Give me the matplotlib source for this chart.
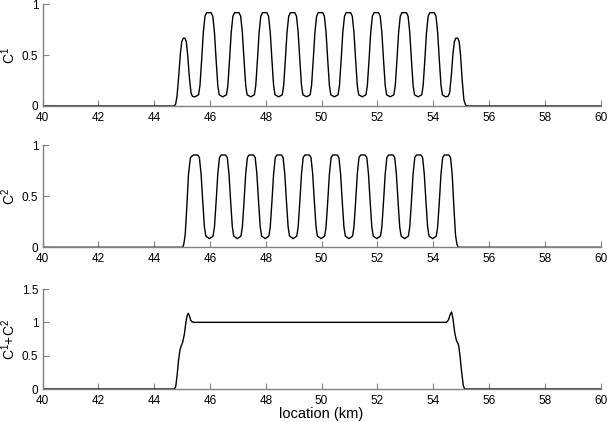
import numpy as np
import matplotlib
matplotlib.use("Agg")
import matplotlib.pyplot as plt

plt.rcParams['font.family'] = ['Liberation Sans', 'DejaVu Sans']
plt.rcParams['mathtext.default'] = 'regular'

# --- valores (km, concentración) ---
c1_x = [
    40.00, 44.72, 44.77, 44.82, 44.88, 44.94, 44.99, 45.04, 45.10, 45.15, 45.20, 45.26, 45.32, 45.37, 45.46,
    45.59, 45.64, 45.70, 45.76, 45.82, 45.88, 46.04, 46.10, 46.16, 46.22, 46.28, 46.33, 46.46,
    46.59, 46.64, 46.70, 46.76, 46.82, 46.88, 47.04, 47.10, 47.16, 47.22, 47.28, 47.33, 47.46,
    47.59, 47.64, 47.70, 47.76, 47.82, 47.88, 48.04, 48.10, 48.16, 48.22, 48.28, 48.33, 48.46,
    48.59, 48.64, 48.70, 48.76, 48.82, 48.88, 49.04, 49.10, 49.16, 49.22, 49.28, 49.33, 49.46,
    49.59, 49.64, 49.70, 49.76, 49.82, 49.88, 50.04, 50.10, 50.16, 50.22, 50.28, 50.33, 50.46,
    50.59, 50.64, 50.70, 50.76, 50.82, 50.88, 51.04, 51.10, 51.16, 51.22, 51.28, 51.33, 51.46,
    51.59, 51.64, 51.70, 51.76, 51.82, 51.88, 52.04, 52.10, 52.16, 52.22, 52.28, 52.33, 52.46,
    52.59, 52.64, 52.70, 52.76, 52.82, 52.88, 53.04, 53.10, 53.16, 53.22, 53.28, 53.33, 53.46,
    53.59, 53.64, 53.70, 53.76, 53.82, 53.88, 54.04, 54.10, 54.16, 54.22, 54.28, 54.33, 54.44,
    54.53, 54.59, 54.65, 54.71, 54.76, 54.81, 54.88, 54.93, 54.98, 55.04, 55.10, 55.16, 55.22, 60.00,
]
c1_y = [
    0.00, 0.00, 0.02, 0.10, 0.30, 0.52, 0.63, 0.665, 0.665, 0.63, 0.50, 0.28, 0.13, 0.095, 0.09,
    0.11, 0.20, 0.45, 0.72, 0.88, 0.915, 0.915, 0.88, 0.72, 0.45, 0.20, 0.11, 0.09,
    0.11, 0.20, 0.45, 0.72, 0.88, 0.915, 0.915, 0.88, 0.72, 0.45, 0.20, 0.11, 0.09,
    0.11, 0.20, 0.45, 0.72, 0.88, 0.915, 0.915, 0.88, 0.72, 0.45, 0.20, 0.11, 0.09,
    0.11, 0.20, 0.45, 0.72, 0.88, 0.915, 0.915, 0.88, 0.72, 0.45, 0.20, 0.11, 0.09,
    0.11, 0.20, 0.45, 0.72, 0.88, 0.915, 0.915, 0.88, 0.72, 0.45, 0.20, 0.11, 0.09,
    0.11, 0.20, 0.45, 0.72, 0.88, 0.915, 0.915, 0.88, 0.72, 0.45, 0.20, 0.11, 0.09,
    0.11, 0.20, 0.45, 0.72, 0.88, 0.915, 0.915, 0.88, 0.72, 0.45, 0.20, 0.11, 0.09,
    0.11, 0.20, 0.45, 0.72, 0.88, 0.915, 0.915, 0.88, 0.72, 0.45, 0.20, 0.11, 0.09,
    0.11, 0.20, 0.45, 0.72, 0.88, 0.915, 0.915, 0.88, 0.72, 0.45, 0.20, 0.11, 0.09,
    0.095, 0.13, 0.30, 0.52, 0.63, 0.665, 0.665, 0.63, 0.50, 0.25, 0.06, 0.01, 0.00, 0.00,
]

c2_x = [
    40.00, 45.02, 45.06, 45.11, 45.17, 45.23, 45.30, 45.40,
    45.56, 45.62, 45.68, 45.74, 45.80, 45.85, 45.98,
    46.11, 46.16, 46.22, 46.28, 46.34, 46.40, 46.56, 46.62, 46.68, 46.74, 46.80, 46.85, 46.98,
    47.11, 47.16, 47.22, 47.28, 47.34, 47.40, 47.56, 47.62, 47.68, 47.74, 47.80, 47.85, 47.98,
    48.11, 48.16, 48.22, 48.28, 48.34, 48.40, 48.56, 48.62, 48.68, 48.74, 48.80, 48.85, 48.98,
    49.11, 49.16, 49.22, 49.28, 49.34, 49.40, 49.56, 49.62, 49.68, 49.74, 49.80, 49.85, 49.98,
    50.11, 50.16, 50.22, 50.28, 50.34, 50.40, 50.56, 50.62, 50.68, 50.74, 50.80, 50.85, 50.98,
    51.11, 51.16, 51.22, 51.28, 51.34, 51.40, 51.56, 51.62, 51.68, 51.74, 51.80, 51.85, 51.98,
    52.11, 52.16, 52.22, 52.28, 52.34, 52.40, 52.56, 52.62, 52.68, 52.74, 52.80, 52.85, 52.98,
    53.11, 53.16, 53.22, 53.28, 53.34, 53.40, 53.56, 53.62, 53.68, 53.74, 53.80, 53.85, 53.98,
    54.11, 54.16, 54.22, 54.28, 54.34, 54.40, 54.56, 54.62, 54.68, 54.74, 54.80, 54.85, 54.90, 60.00,
]
c2_y = [
    0.00, 0.00, 0.03, 0.12, 0.40, 0.72, 0.88, 0.905,
    0.905, 0.88, 0.72, 0.45, 0.20, 0.11, 0.085,
    0.11, 0.20, 0.45, 0.72, 0.88, 0.905, 0.905, 0.88, 0.72, 0.45, 0.20, 0.11, 0.085,
    0.11, 0.20, 0.45, 0.72, 0.88, 0.905, 0.905, 0.88, 0.72, 0.45, 0.20, 0.11, 0.085,
    0.11, 0.20, 0.45, 0.72, 0.88, 0.905, 0.905, 0.88, 0.72, 0.45, 0.20, 0.11, 0.085,
    0.11, 0.20, 0.45, 0.72, 0.88, 0.905, 0.905, 0.88, 0.72, 0.45, 0.20, 0.11, 0.085,
    0.11, 0.20, 0.45, 0.72, 0.88, 0.905, 0.905, 0.88, 0.72, 0.45, 0.20, 0.11, 0.085,
    0.11, 0.20, 0.45, 0.72, 0.88, 0.905, 0.905, 0.88, 0.72, 0.45, 0.20, 0.11, 0.085,
    0.11, 0.20, 0.45, 0.72, 0.88, 0.905, 0.905, 0.88, 0.72, 0.45, 0.20, 0.11, 0.085,
    0.11, 0.20, 0.45, 0.72, 0.88, 0.905, 0.905, 0.88, 0.72, 0.45, 0.20, 0.11, 0.085,
    0.11, 0.20, 0.45, 0.72, 0.88, 0.905, 0.905, 0.88, 0.72, 0.40, 0.12, 0.03, 0.00, 0.00,
]

sum_x = [
    40.00, 44.72, 44.77, 44.82, 44.87, 44.92, 44.97, 45.02, 45.08, 45.13, 45.18, 45.22, 45.26, 45.31, 45.37, 45.44,
    54.48, 54.55, 54.61, 54.66, 54.71, 54.77, 54.83, 54.91, 54.96, 55.02, 55.08, 55.13, 60.00,
]
sum_y = [
    0.00, 0.00, 0.03, 0.20, 0.42, 0.58, 0.65, 0.70, 0.82, 0.98, 1.10, 1.135, 1.10, 1.03, 1.005, 1.00,
    1.00, 1.04, 1.12, 1.155, 1.05, 0.85, 0.73, 0.66, 0.50, 0.25, 0.05, 0.00, 0.00,
]

x_ticks = np.arange(40, 61, 2)
W, H = 607, 422

fig = plt.figure(figsize=(W / 100, H / 100), dpi=100)

# (x0, x1, y_top, y_bottom) en píxeles
frames = [
    (42.6, 600.6, 4.0, 106.0),
    (42.6, 600.6, 145.3, 247.3),
    (42.6, 600.6, 289.0, 389.0),
]
series = [(c1_x, c1_y), (c2_x, c2_y), (sum_x, sum_y)]
labels = ['C$^1$', 'C$^2$', 'C$^1$+C$^2$']
ylims = [(0, 1), (0, 1), (0, 1.5)]
yticks = [[0, 0.5, 1], [0, 0.5, 1], [0, 0.5, 1, 1.5]]
yticklabels = [['0', '0.5', '1'], ['0', '0.5', '1'], ['0', '0.5', '1', '1.5']]

for (x0, x1, yt, yb), (xs, ys), lab, yl, yk, ykl in zip(frames, series, labels, ylims, yticks, yticklabels):
    ax = fig.add_axes([x0 / W, 1 - yb / H, (x1 - x0) / W, (yb - yt) / H])
    ax.plot(xs, ys, color='black', lw=1.0)
    ax.set_xlim(40, 60)
    ax.set_ylim(*yl)
    ax.set_xticks(x_ticks)
    ax.set_xticklabels([str(v) for v in x_ticks])
    ax.set_yticks(yk)
    ax.set_yticklabels(ykl)
    for s in ['top', 'right']:
        ax.spines[s].set_visible(False)
    for s in ['left', 'bottom']:
        ax.spines[s].set_color('#808080')
        ax.spines[s].set_linewidth(1.0)
    ax.tick_params(direction='in', length=4, width=0.8, color='#808080',
                   labelsize=8.5)
    ax.tick_params(axis='x', pad=4)
    ax.tick_params(axis='y', pad=3)
    ax.set_ylabel(lab, fontsize=10, labelpad=3)
    ax.patch.set_alpha(0)

ax.set_xlabel('location (km)', fontsize=10.5, labelpad=0)

fig.savefig('out.png', dpi=100)
